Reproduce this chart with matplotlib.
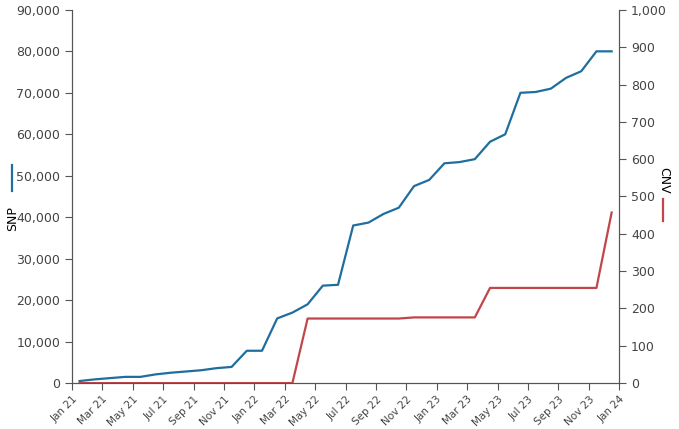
import matplotlib
matplotlib.use("Agg")
import matplotlib.pyplot as plt
from matplotlib.lines import Line2D
from matplotlib.ticker import FuncFormatter

months_offset = [i + 0.5 for i in range(36)]
snp = [500, 900, 1200, 1500, 1500, 2100, 2500, 2800, 3100, 3600, 3900, 7800, 7800,
       15600, 17000, 19000, 23500, 23700, 38000, 38700, 40800, 42300, 47500, 49000,
       53000, 53300, 54000, 58200, 60000, 70000, 70200, 71000, 73600, 75200, 80000, 80000]
cnv = [0]*15 + [173]*7 + [176]*5 + [255]*8 + [457]
tick_labels = ["Jan 21", "Mar 21", "May 21", "Jul 21", "Sep 21", "Nov 21",
               "Jan 22", "Mar 22", "May 22", "Jul 22", "Sep 22", "Nov 22",
               "Jan 23", "Mar 23", "May 23", "Jul 23", "Sep 23", "Nov 23", "Jan 24"]

blue = "#1f6e9e"
red = "#c0464a"
grey = "#555555"

fig = plt.figure(figsize=(6.79, 4.29), dpi=100)
ax = fig.add_axes([0.106, 0.107, 0.806, 0.870])
ax2 = ax.twinx()
ax.plot(months_offset, snp, color=blue, lw=1.6)
ax2.plot(months_offset, cnv, color=red, lw=1.6)

ax.set_xlim(0, 36)
ax.set_ylim(0, 90000)
ax2.set_ylim(0, 1000)
ax.set_xticks(range(0, 37, 2))
ax.set_xticklabels(tick_labels, rotation=45, ha="right", rotation_mode="anchor")
ax.set_yticks(range(0, 90001, 10000))
ax2.set_yticks(range(0, 1001, 100))
ax.yaxis.set_major_formatter(FuncFormatter(lambda v, p: f"{int(v):,}"))
ax2.yaxis.set_major_formatter(FuncFormatter(lambda v, p: f"{int(v):,}"))

for a in (ax, ax2):
    a.spines["top"].set_visible(False)
    for s in ("left", "right", "bottom"):
        a.spines[s].set_color(grey)
    a.tick_params(colors=grey, labelsize=9, labelcolor="#444444", length=5)
ax.tick_params(axis="x", labelsize=7.5, pad=3)

fig.text(0.018, 0.49, "SNP", rotation=90, ha="center", va="center", fontsize=9)
fig.add_artist(Line2D([0.018, 0.018], [0.555, 0.615], color=blue, lw=1.6))
fig.text(0.977, 0.58, "CNV", rotation=270, ha="center", va="center", fontsize=9)
fig.add_artist(Line2D([0.977, 0.977], [0.485, 0.535], color=red, lw=1.6))

fig.savefig("out.png", dpi=100)
